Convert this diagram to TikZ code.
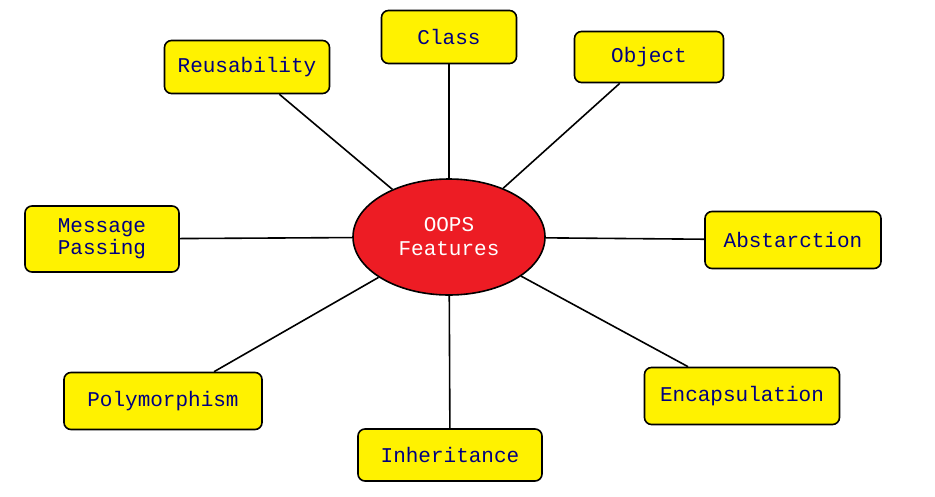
\documentclass[tikz,border=0pt]{standalone}
\usepackage{fontspec}
\setmonofont{Liberation Mono}
\usetikzlibrary{shapes.geometric}
\definecolor{boxy}{RGB}{255,242,0}
\definecolor{navy}{RGB}{0,0,128}
\definecolor{oopsred}{RGB}{237,28,36}
\tikzset{
 feat/.style={draw=black, line width=1.6pt, fill=boxy, rounded corners=7pt, text=navy,
   font=\ttfamily\fontsize{21}{22}\selectfont, align=center, inner sep=0pt, minimum height=#1},
 feat/.default=53pt,
 link/.style={line width=1.6pt}
}
\begin{document}
\begin{tikzpicture}[x=1pt,y=-1pt]
\useasboundingbox (0,0) rectangle (935,496);
\node[draw=black, line width=1.6pt, fill=oopsred, ellipse, minimum width=192pt, minimum height=116pt,
  text=white, font=\ttfamily\fontsize{21}{24}\selectfont, align=center] (c) at (449,237) {OOPS\\Features};
\node[feat, minimum width=135pt] (class) at (449,37) {Class};
\node[feat=51pt, minimum width=149pt] (obj) at (649,57) {Object};
\node[feat, minimum width=165pt] (reu) at (247,67) {Reusability};
\node[feat=66pt, minimum width=154pt] (msg) at (102,239) {Message\\Passing};
\node[feat=57pt, minimum width=176pt] (abs) at (793,240) {Abstarction};
\node[feat=57pt, minimum width=198pt] (poly) at (163,401) {Polymorphism};
\node[feat=52pt, minimum width=184pt] (inh) at (450,455) {Inheritance};
\node[feat=57pt, minimum width=195pt] (enc) at (742,396) {Encapsulation};
\draw[link] (c) -- (class);
\draw[link] (c) -- (obj);
\draw[link] (c) -- (reu);
\draw[link] (c) -- (msg);
\draw[link] (c) -- (abs);
\draw[link] (c) -- (poly);
\draw[link] (c) -- (inh);
\draw[link] (c) -- (enc);
\end{tikzpicture}
\end{document}
